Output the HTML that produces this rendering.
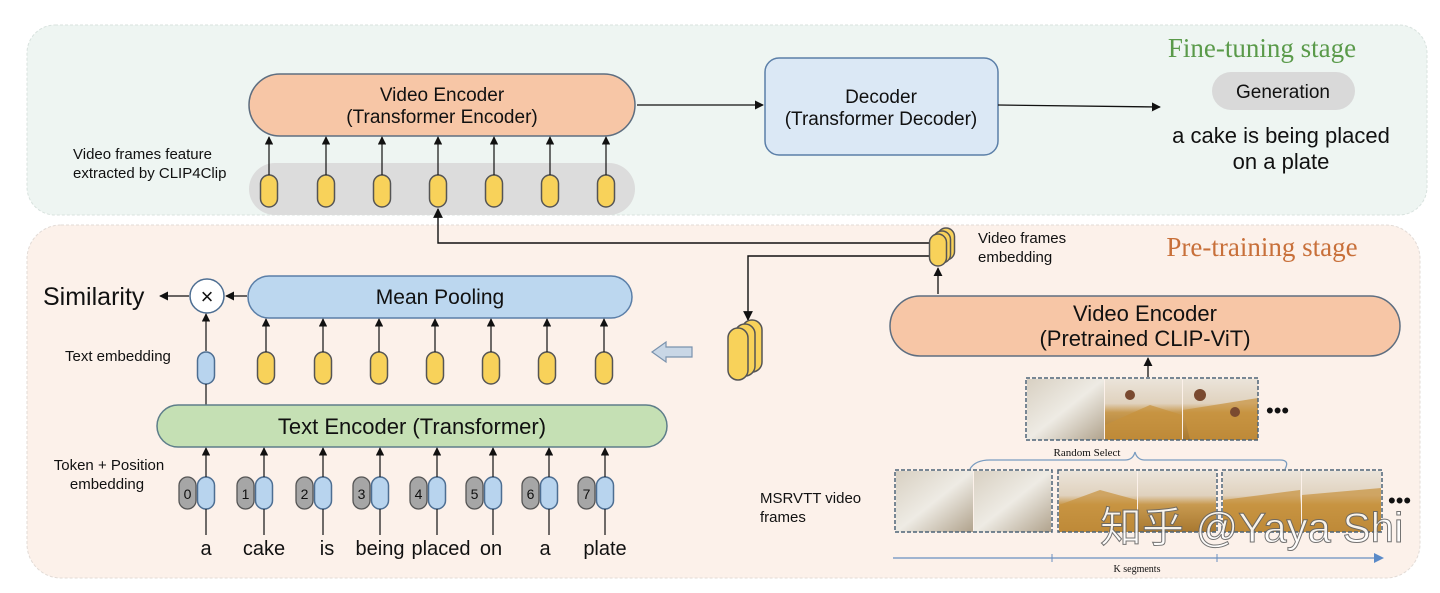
<!DOCTYPE html>
<html><head><meta charset="utf-8"><style>
html,body{margin:0;padding:0;background:#fff;width:1440px;height:593px;overflow:hidden}
svg text{font-family:"Liberation Sans","Noto Sans CJK SC",sans-serif;fill:#111}
.serif{font-family:"Liberation Serif",serif !important}
</style></head><body>
<svg width="1440" height="593" viewBox="0 0 1440 593" xmlns="http://www.w3.org/2000/svg">
<defs>
<marker id="a" viewBox="0 0 10 10" refX="9" refY="5" markerWidth="7" markerHeight="7" orient="auto"><path d="M0,0L10,5L0,10z" fill="#111"/></marker>
<linearGradient id="plate" x1="0" y1="0" x2="1" y2="1"><stop offset="0" stop-color="#d8d0c2"/><stop offset=".5" stop-color="#eeebe4"/><stop offset="1" stop-color="#b0a28c"/></linearGradient>
<linearGradient id="cake" x1="0" y1="0" x2="0" y2="1"><stop offset="0" stop-color="#ebe4da"/><stop offset=".4" stop-color="#e0d2be"/><stop offset=".55" stop-color="#c89a50"/><stop offset="1" stop-color="#a87830"/></linearGradient>
<g id="yp"><rect x="-8.5" y="0" width="17" height="32" rx="8.5" fill="#f8d25a" stroke="#555" stroke-width="1.5"/></g>
<g id="bp"><rect x="-8.5" y="0" width="17" height="32" rx="8.5" fill="#b8d4ee" stroke="#4d6e92" stroke-width="1.5"/></g>
</defs>
<rect x="27" y="25" width="1400" height="190" rx="28" fill="#eef5f2" stroke="#d8e2de" stroke-dasharray="3 2"/>
<rect x="27" y="225" width="1393" height="353" rx="34" fill="#fcf1ea" stroke="#e2dbd6" stroke-dasharray="3 2"/>
<text x="1262" y="57" class="serif" font-size="27" text-anchor="middle" style="fill:#5a9a4a">Fine-tuning stage</text>
<text x="1262" y="256" class="serif" font-size="27" text-anchor="middle" style="fill:#c8703a">Pre-training stage</text>
<rect x="249" y="74" width="386" height="62" rx="31" fill="#f7c6a6" stroke="#5e6e80" stroke-width="1.5"/>
<text x="442" y="101" font-size="19" text-anchor="middle">Video Encoder</text>
<text x="442" y="123" font-size="19" text-anchor="middle">(Transformer Encoder)</text>
<rect x="765" y="58" width="233" height="97" rx="14" fill="#dbe8f5" stroke="#5b7fa8" stroke-width="1.5"/>
<text x="881" y="103" font-size="19" text-anchor="middle">Decoder</text>
<text x="881" y="125" font-size="19" text-anchor="middle">(Transformer Decoder)</text>
<line x1="637" y1="105" x2="763" y2="105" stroke="#111" stroke-width="1.3" marker-end="url(#a)"/>
<line x1="998" y1="105" x2="1160" y2="107" stroke="#111" stroke-width="1.3" marker-end="url(#a)"/>
<rect x="1212" y="72" width="143" height="38" rx="19" fill="#d9d9d9"/>
<text x="1283" y="98" font-size="19" text-anchor="middle">Generation</text>
<text x="1281" y="143" font-size="22" text-anchor="middle">a cake is being placed</text>
<text x="1281" y="169" font-size="22" text-anchor="middle">on a plate</text>
<text x="73" y="159" font-size="15">Video frames feature</text>
<text x="73" y="178" font-size="15">extracted by CLIP4Clip</text>
<rect x="249" y="163" width="386" height="52" rx="26" fill="#dcdcdc"/>
<g>
<use href="#yp" x="269" y="175"/><use href="#yp" x="326" y="175"/><use href="#yp" x="382" y="175"/><use href="#yp" x="438" y="175"/><use href="#yp" x="494" y="175"/><use href="#yp" x="550" y="175"/><use href="#yp" x="606" y="175"/>
</g>
<g stroke="#111" stroke-width="1.2" marker-end="url(#a)">
<line x1="269" y1="175" x2="269" y2="137"/><line x1="326" y1="175" x2="326" y2="137"/><line x1="382" y1="175" x2="382" y2="137"/><line x1="438" y1="175" x2="438" y2="137"/><line x1="494" y1="175" x2="494" y2="137"/><line x1="550" y1="175" x2="550" y2="137"/><line x1="606" y1="175" x2="606" y2="137"/>
</g>
<polyline points="930,243 438,243 438,209" fill="none" stroke="#111" stroke-width="1.4" marker-end="url(#a)"/>
<polyline points="930,256 748,256 748,320" fill="none" stroke="#111" stroke-width="1.4" marker-end="url(#a)"/>
<g><use href="#yp" x="946" y="228"/><use href="#yp" x="942" y="231"/><use href="#yp" x="938" y="234"/></g>
<text x="978" y="243" font-size="15">Video frames</text>
<text x="978" y="262" font-size="15">embedding</text>
<rect x="742" y="320" width="20" height="52" rx="10" fill="#f8d25a" stroke="#555" stroke-width="1.5"/>
<rect x="735" y="324" width="20" height="52" rx="10" fill="#f8d25a" stroke="#555" stroke-width="1.5"/>
<rect x="728" y="328" width="20" height="52" rx="10" fill="#f8d25a" stroke="#555" stroke-width="1.5"/>
<path d="M652,352 L666,342 L666,347 L692,347 L692,357 L666,357 L666,362 Z" fill="#c9d7e6" stroke="#7a92ad" stroke-width="1.2"/>
<rect x="890" y="296" width="510" height="60" rx="30" fill="#f7c6a6" stroke="#5e6e80" stroke-width="1.5"/>
<text x="1145" y="321" font-size="22" text-anchor="middle">Video Encoder</text>
<text x="1145" y="346" font-size="22" text-anchor="middle">(Pretrained CLIP-ViT)</text>
<line x1="938" y1="294" x2="938" y2="268" stroke="#111" stroke-width="1.3" marker-end="url(#a)"/>
<line x1="1148" y1="377" x2="1148" y2="358" stroke="#111" stroke-width="1.3" marker-end="url(#a)"/>
<rect x="1027" y="379" width="77" height="61" fill="url(#plate)"/>
<rect x="1105" y="379" width="77" height="61" fill="url(#cake)"/>
<rect x="1183" y="379" width="75" height="61" fill="url(#cake)"/>
<path d="M1105,425 L1150,405 L1182,415 L1182,440 L1105,440Z" fill="#c8923c" opacity=".7"/>
<path d="M1183,410 L1258,398 L1258,440 L1190,440Z" fill="#c8923c" opacity=".7"/>
<circle cx="1130" cy="395" r="5" fill="#7a4a30"/><circle cx="1200" cy="395" r="6" fill="#7a4a30"/><circle cx="1235" cy="412" r="5" fill="#7a4a30"/>
<rect x="1026" y="378" width="232" height="62" fill="none" stroke="#4d6478" stroke-width="1.5" stroke-dasharray="4 2"/>
<text x="1266" y="418" font-size="22">•••</text>
<text x="1087" y="456" class="serif" font-size="11" text-anchor="middle">Random Select</text>
<path d="M970,469 Q975,460 990,460 L1125,460 Q1133,460 1135,452 Q1137,460 1145,460 L1280,460 Q1290,460 1285,469" fill="none" stroke="#7a9cc0" stroke-width="1.3"/>
<rect x="896" y="471" width="77" height="61" fill="url(#plate)"/>
<rect x="974" y="471" width="77" height="61" fill="url(#plate)"/>
<rect x="1059" y="471" width="78" height="61" fill="url(#cake)"/>
<rect x="1138" y="471" width="78" height="61" fill="url(#cake)"/>
<rect x="1223" y="471" width="78" height="61" fill="url(#cake)"/>
<rect x="1302" y="471" width="79" height="61" fill="url(#cake)"/>
<path d="M1059,505 L1100,490 L1137,500 L1137,532 L1059,532Z" fill="#c8923c" opacity=".7"/>
<path d="M1223,500 L1300,490 L1300,532 L1223,532Z" fill="#c8923c" opacity=".7"/>
<path d="M1302,495 L1381,488 L1381,532 L1302,532Z" fill="#c8923c" opacity=".7"/>
<g fill="none" stroke="#4d6478" stroke-width="1.5" stroke-dasharray="4 2">
<rect x="895" y="470" width="157" height="62"/><rect x="1058" y="470" width="159" height="62"/><rect x="1222" y="470" width="160" height="62"/></g>
<text x="1388" y="508" font-size="22">•••</text>
<text x="760" y="503" font-size="15">MSRVTT video</text>
<text x="760" y="522" font-size="15">frames</text>
<line x1="893" y1="558" x2="1375" y2="558" stroke="#6a90c0" stroke-width="1.3"/>
<path d="M1384,558 L1374,553 L1374,563 Z" fill="#5a8ac8"/>
<line x1="1052" y1="554" x2="1052" y2="562" stroke="#6a90c0"/><line x1="1217" y1="554" x2="1217" y2="562" stroke="#6a90c0"/>
<text x="1137" y="572" class="serif" font-size="10" text-anchor="middle">K segments</text>
<text x="1100" y="542" font-size="42" style="fill:#fff;stroke:#666;stroke-width:1;opacity:.9">知乎 @Yaya Shi</text>
<rect x="248" y="276" width="384" height="42" rx="21" fill="#bcd7ef" stroke="#5b7fa8" stroke-width="1.5"/>
<text x="440" y="304" font-size="21" text-anchor="middle">Mean Pooling</text>
<circle cx="207" cy="296" r="17" fill="#fff" stroke="#4d6e92" stroke-width="1.5"/>
<text x="207" y="304" font-size="22" text-anchor="middle">×</text>
<line x1="247" y1="296" x2="226" y2="296" stroke="#111" stroke-width="1.3" marker-end="url(#a)"/>
<line x1="189" y1="296" x2="160" y2="296" stroke="#111" stroke-width="1.3" marker-end="url(#a)"/>
<text x="43" y="305" font-size="25">Similarity</text>
<text x="65" y="361" font-size="15">Text embedding</text>
<use href="#bp" x="206" y="352"/>
<line x1="206" y1="351" x2="206" y2="314" stroke="#111" stroke-width="1.2" marker-end="url(#a)"/>
<line x1="206" y1="405" x2="206" y2="384" stroke="#111" stroke-width="1.2"/>
<g><use href="#yp" x="266" y="352"/><use href="#yp" x="323" y="352"/><use href="#yp" x="379" y="352"/><use href="#yp" x="435" y="352"/><use href="#yp" x="491" y="352"/><use href="#yp" x="547" y="352"/><use href="#yp" x="604" y="352"/></g>
<g stroke="#111" stroke-width="1.2" marker-end="url(#a)">
<line x1="266" y1="352" x2="266" y2="319"/><line x1="323" y1="352" x2="323" y2="319"/><line x1="379" y1="352" x2="379" y2="319"/><line x1="435" y1="352" x2="435" y2="319"/><line x1="491" y1="352" x2="491" y2="319"/><line x1="547" y1="352" x2="547" y2="319"/><line x1="604" y1="352" x2="604" y2="319"/>
</g>
<rect x="157" y="405" width="510" height="42" rx="21" fill="#c5e0b4" stroke="#5e7e8a" stroke-width="1.5"/>
<text x="412" y="434" font-size="22" text-anchor="middle">Text Encoder (Transformer)</text>
<text x="109" y="470" font-size="15" text-anchor="middle">Token + Position</text>
<text x="107" y="489" font-size="15" text-anchor="middle">embedding</text>
<g transform="translate(206,0)"><rect x="-27" y="477" width="17" height="32" rx="8.5" fill="#a6a6a6" stroke="#555" stroke-width="1.3"/><text x="-18.5" y="499" font-size="14" text-anchor="middle">0</text><use href="#bp" x="0" y="477"/></g>
<g transform="translate(264,0)"><rect x="-27" y="477" width="17" height="32" rx="8.5" fill="#a6a6a6" stroke="#555" stroke-width="1.3"/><text x="-18.5" y="499" font-size="14" text-anchor="middle">1</text><use href="#bp" x="0" y="477"/></g>
<g transform="translate(323,0)"><rect x="-27" y="477" width="17" height="32" rx="8.5" fill="#a6a6a6" stroke="#555" stroke-width="1.3"/><text x="-18.5" y="499" font-size="14" text-anchor="middle">2</text><use href="#bp" x="0" y="477"/></g>
<g transform="translate(380,0)"><rect x="-27" y="477" width="17" height="32" rx="8.5" fill="#a6a6a6" stroke="#555" stroke-width="1.3"/><text x="-18.5" y="499" font-size="14" text-anchor="middle">3</text><use href="#bp" x="0" y="477"/></g>
<g transform="translate(437,0)"><rect x="-27" y="477" width="17" height="32" rx="8.5" fill="#a6a6a6" stroke="#555" stroke-width="1.3"/><text x="-18.5" y="499" font-size="14" text-anchor="middle">4</text><use href="#bp" x="0" y="477"/></g>
<g transform="translate(493,0)"><rect x="-27" y="477" width="17" height="32" rx="8.5" fill="#a6a6a6" stroke="#555" stroke-width="1.3"/><text x="-18.5" y="499" font-size="14" text-anchor="middle">5</text><use href="#bp" x="0" y="477"/></g>
<g transform="translate(549,0)"><rect x="-27" y="477" width="17" height="32" rx="8.5" fill="#a6a6a6" stroke="#555" stroke-width="1.3"/><text x="-18.5" y="499" font-size="14" text-anchor="middle">6</text><use href="#bp" x="0" y="477"/></g>
<g transform="translate(605,0)"><rect x="-27" y="477" width="17" height="32" rx="8.5" fill="#a6a6a6" stroke="#555" stroke-width="1.3"/><text x="-18.5" y="499" font-size="14" text-anchor="middle">7</text><use href="#bp" x="0" y="477"/></g>
<g stroke="#111" stroke-width="1.2">
<g marker-end="url(#a)"><line x1="206" y1="477" x2="206" y2="448"/><line x1="264" y1="477" x2="264" y2="448"/><line x1="323" y1="477" x2="323" y2="448"/><line x1="380" y1="477" x2="380" y2="448"/><line x1="437" y1="477" x2="437" y2="448"/><line x1="493" y1="477" x2="493" y2="448"/><line x1="549" y1="477" x2="549" y2="448"/><line x1="605" y1="477" x2="605" y2="448"/></g>
<line x1="206" y1="509" x2="206" y2="535"/><line x1="264" y1="509" x2="264" y2="535"/><line x1="323" y1="509" x2="323" y2="535"/><line x1="380" y1="509" x2="380" y2="535"/><line x1="437" y1="509" x2="437" y2="535"/><line x1="493" y1="509" x2="493" y2="535"/><line x1="549" y1="509" x2="549" y2="535"/><line x1="605" y1="509" x2="605" y2="535"/>
</g>
<g font-size="20" text-anchor="middle">
<text x="206" y="555">a</text><text x="264" y="555">cake</text><text x="327" y="555">is</text><text x="380" y="555">being</text><text x="441" y="555">placed</text><text x="491" y="555">on</text><text x="545" y="555">a</text><text x="605" y="555">plate</text>
</g>
</svg>
</body></html>
